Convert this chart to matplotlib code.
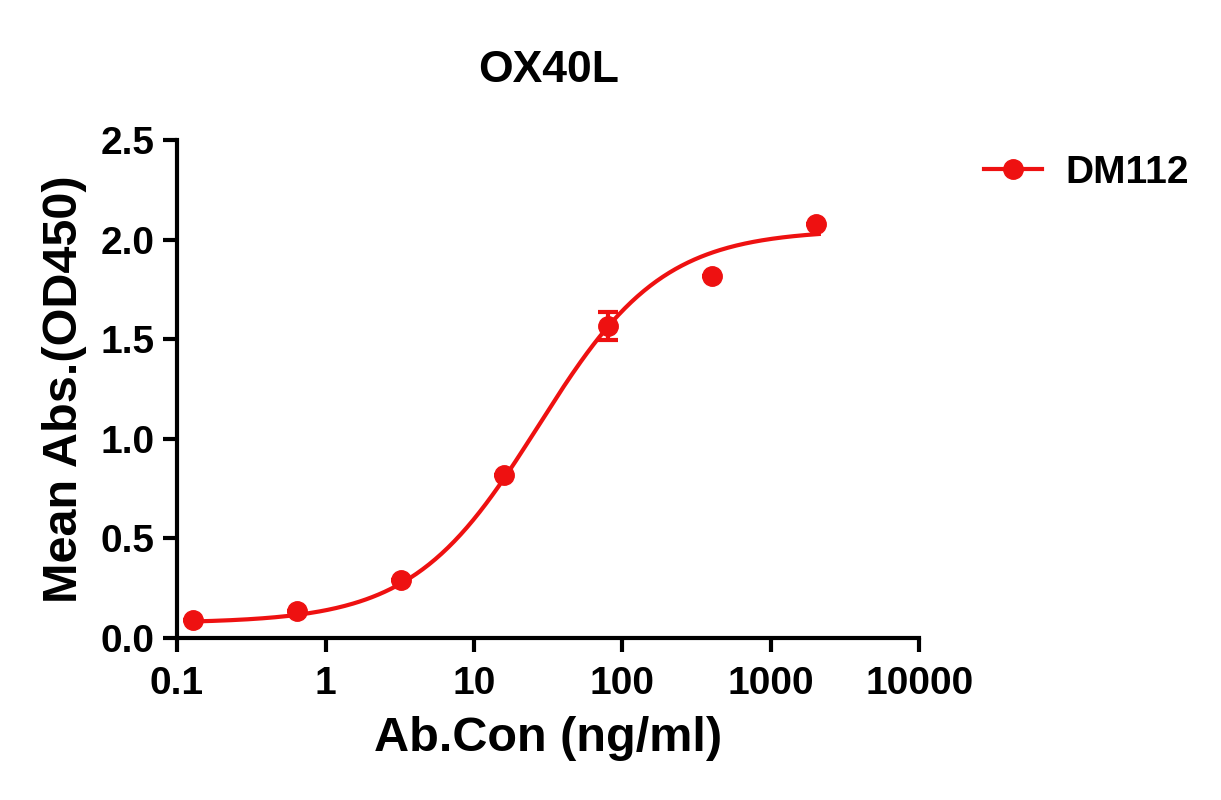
import numpy as np
import matplotlib
matplotlib.use("Agg")
import matplotlib.pyplot as plt
plt.rcParams['font.family'] = ['Liberation Sans', 'DejaVu Sans']

conc = [0.128, 0.64, 3.2, 16, 80, 400, 2000]
absorb = [0.09, 0.135, 0.29, 0.82, 1.565, 1.815, 2.08]
err = [0, 0, 0, 0, 0.07, 0, 0]
# 4PL fit parameters
bottom, top, ec50, hill = 0.075, 2.05, 27.0, 1.03

fig = plt.figure(figsize=(12.21, 8.0), dpi=100)
ax = fig.add_axes([0.145, 0.2025, 0.608, 0.6225])
red = "#ee1111"
xs = np.logspace(np.log10(0.12), np.log10(2100), 300)
ys = bottom + (top - bottom) / (1 + (ec50 / xs) ** hill)
ax.plot(xs, ys, color=red, lw=3)
ax.errorbar(conc, absorb, yerr=err, fmt="o", color=red, ms=14, capsize=7, elinewidth=3, capthick=3)
ax.plot([], [], "-o", color=red, lw=3, ms=14, label="DM112")
ax.set_xscale("log")
ax.set_xlim(0.1, 10000)
ax.set_ylim(0, 2.5)
ax.set_xticks([0.1, 1, 10, 100, 1000, 10000])
ax.set_xticklabels(["0.1", "1", "10", "100", "1000", "10000"])
ax.set_yticks([0, 0.5, 1.0, 1.5, 2.0, 2.5])
ax.set_yticklabels(["0.0", "0.5", "1.0", "1.5", "2.0", "2.5"])
ax.minorticks_off()
for s in ["top", "right"]:
    ax.spines[s].set_visible(False)
for s in ["left", "bottom"]:
    ax.spines[s].set_linewidth(3)
ax.tick_params(width=3, length=10, labelsize=28)
ax.tick_params(axis="x", pad=10)
ax.tick_params(axis="y", pad=6)
for l in ax.get_xticklabels() + ax.get_yticklabels():
    l.set_fontweight("bold")
ax.set_xlabel("Ab.Con (ng/ml)", fontsize=35, fontweight="bold", labelpad=10)
ax.set_ylabel("Mean Abs.(OD450)", fontsize=35, fontweight="bold", labelpad=10)
ax.set_title("OX40L", fontsize=32, fontweight="bold", pad=42)
leg = ax.legend(loc="upper left", bbox_to_anchor=(1.04, 1.04), frameon=False,
                prop={"size": 28, "weight": "bold"}, handlelength=1.5, handletextpad=0.6)
fig.savefig("out.png", dpi=100)
